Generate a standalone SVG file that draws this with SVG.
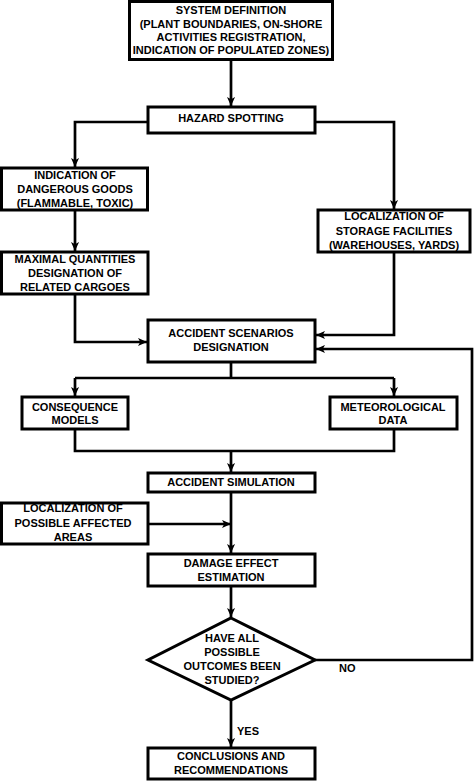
<svg xmlns="http://www.w3.org/2000/svg" width="474" height="781" viewBox="0 0 474 781">
<style>
.box{fill:#fff;stroke:#000;stroke-width:3}
.ln{fill:none;stroke:#000;stroke-width:2.7}
.t{font-family:"Liberation Sans",Arial,sans-serif;font-weight:bold;font-size:11px;text-anchor:middle;fill:#000}
.lb{font-family:"Liberation Sans",Arial,sans-serif;font-weight:bold;font-size:11px;fill:#000}
</style>
<defs>
<marker id="ah" viewBox="0 0 10 10" refX="10" refY="5" markerWidth="9" markerHeight="9" markerUnits="userSpaceOnUse" orient="auto">
<path d="M0,0.5 L10,5 L0,9.5 L2.5,5 z" fill="#000"/>
</marker>
</defs>
<rect width="474" height="781" fill="#fff"/>
<g id="connectors">
<path class="ln" d="M231,60 V106" marker-end="url(#ah)"/>
<path class="ln" d="M148,122 H75 V167" marker-end="url(#ah)"/>
<path class="ln" d="M315,122 H394 V209" marker-end="url(#ah)"/>
<path class="ln" d="M75,210 V251" marker-end="url(#ah)"/>
<path class="ln" d="M75,294 V342 H147" marker-end="url(#ah)"/>
<path class="ln" d="M394,252 V335 H316" marker-end="url(#ah)"/>
<path class="ln" d="M231,362 V378 M75,378 H394"/>
<path class="ln" d="M75,378 V396" marker-end="url(#ah)"/>
<path class="ln" d="M394,378 V396" marker-end="url(#ah)"/>
<path class="ln" d="M75,429 V451 H394 V429"/>
<path class="ln" d="M231,451 V472" marker-end="url(#ah)"/>
<path class="ln" d="M231,492 V553" marker-end="url(#ah)"/>
<path class="ln" d="M148,524 H231" marker-end="url(#ah)"/>
<path class="ln" d="M231,586 V617" marker-end="url(#ah)"/>
<path class="ln" d="M315,660 H472 V349 H316" marker-end="url(#ah)"/>
<path class="ln" d="M231,700 V747" marker-end="url(#ah)"/>
<text class="lb" x="339" y="672">NO</text>
<text class="lb" x="237" y="735">YES</text>
</g>
<g id="system">
<rect class="box" x="129.5" y="1.5" width="203" height="58"/>
<text class="t" x="231" y="14">SYSTEM DEFINITION</text>
<text class="t" x="231" y="28">(PLANT BOUNDARIES, ON-SHORE</text>
<text class="t" x="231" y="41">ACTIVITIES REGISTRATION,</text>
<text class="t" x="231" y="54">INDICATION OF POPULATED ZONES)</text>
</g>
<g id="hazard">
<rect class="box" x="148" y="107" width="167" height="26"/>
<text class="t" x="231" y="122">HAZARD SPOTTING</text>
</g>
<g id="indication">
<rect class="box" x="1.5" y="168" width="146" height="42"/>
<text class="t" x="75" y="179">INDICATION OF</text>
<text class="t" x="75" y="193">DANGEROUS GOODS</text>
<text class="t" x="75" y="207">(FLAMMABLE, TOXIC)</text>
</g>
<g id="maximal">
<rect class="box" x="1.5" y="252" width="146.5" height="42"/>
<text class="t" x="75" y="263">MAXIMAL QUANTITIES</text>
<text class="t" x="75" y="277">DESIGNATION OF</text>
<text class="t" x="75" y="291">RELATED CARGOES</text>
</g>
<g id="storage">
<rect class="box" x="318" y="210" width="152" height="42"/>
<text class="t" x="394" y="220">LOCALIZATION OF</text>
<text class="t" x="394" y="235">STORAGE FACILITIES</text>
<text class="t" x="394" y="249">(WAREHOUSES, YARDS)</text>
</g>
<g id="scenarios">
<rect class="box" x="148" y="320" width="167" height="42"/>
<text class="t" x="231" y="337">ACCIDENT SCENARIOS</text>
<text class="t" x="231" y="351">DESIGNATION</text>
</g>
<g id="consequence">
<rect class="box" x="22" y="397" width="106" height="32"/>
<text class="t" x="75" y="411">CONSEQUENCE</text>
<text class="t" x="75" y="424">MODELS</text>
</g>
<g id="meteo">
<rect class="box" x="330" y="397" width="127" height="32"/>
<text class="t" x="393" y="411">METEOROLOGICAL</text>
<text class="t" x="393" y="424">DATA</text>
</g>
<g id="simulation">
<rect class="box" x="148" y="473" width="167" height="19"/>
<text class="t" x="231" y="486">ACCIDENT SIMULATION</text>
</g>
<g id="affected">
<rect class="box" x="1.5" y="503" width="146.5" height="41"/>
<text class="t" x="73" y="512">LOCALIZATION OF</text>
<text class="t" x="73" y="527">POSSIBLE AFFECTED</text>
<text class="t" x="73" y="541">AREAS</text>
</g>
<g id="damage">
<rect class="box" x="148" y="554" width="167" height="32"/>
<text class="t" x="231" y="567">DAMAGE EFFECT</text>
<text class="t" x="231" y="581">ESTIMATION</text>
</g>
<g id="decision">
<polygon class="box" points="231,618 315,660 231,700 148,660"/>
<text class="t" x="232" y="642">HAVE ALL</text>
<text class="t" x="232" y="656">POSSIBLE</text>
<text class="t" x="232" y="670">OUTCOMES BEEN</text>
<text class="t" x="232" y="684">STUDIED?</text>
</g>
<g id="conclusions">
<rect class="box" x="148" y="748" width="167" height="31"/>
<text class="t" x="231" y="760">CONCLUSIONS AND</text>
<text class="t" x="231" y="774">RECOMMENDATIONS</text>
</g>
</svg>
